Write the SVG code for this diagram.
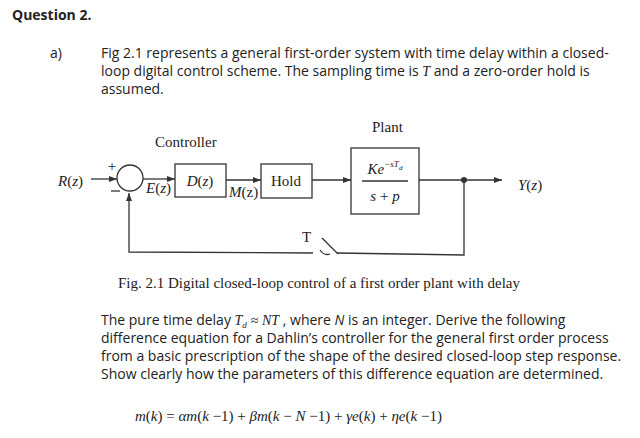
<svg xmlns="http://www.w3.org/2000/svg" width="640" height="438" viewBox="0 0 640 438">
<style>
.s{font-family:"Open Sans","Liberation Sans",sans-serif;font-size:14px;fill:#222}
.t{font-family:"Liberation Serif",serif;font-size:15px;fill:#222}
.b{fill:none;stroke:#333;stroke-width:1.3}
.l{fill:none;stroke:#333;stroke-width:1.3}
</style>
<defs><marker id="a" markerWidth="8" markerHeight="6" refX="8" refY="3" orient="auto" markerUnits="userSpaceOnUse"><path d="M0,0L8,3L0,6z" fill="#333"/></marker></defs>
<rect width="640" height="438" fill="#fff"/>
<text x="12" y="20" class="s" font-weight="bold">Question 2.</text>
<text x="50" y="58" class="s">a)</text>
<text class="s"><tspan x="101" y="58">Fig 2.1 represents a general first-order system with time delay within a closed-</tspan><tspan x="101" y="76">loop digital control scheme. The sampling time is <tspan font-family="Liberation Serif" font-style="italic">T</tspan> and a zero-order hold is</tspan><tspan x="101" y="94">assumed.</tspan></text>
<text x="155" y="147" class="t">Controller</text>
<text x="372" y="132" class="t">Plant</text>
<g id="sum"><circle cx="130" cy="178" r="13" class="b"/><text x="112" y="171" class="t" font-size="26" text-anchor="middle">+</text><line x1="111" y1="191" x2="120" y2="191" class="l"/></g>
<g id="D"><rect x="175" y="164" width="51" height="33" class="b"/><text x="200" y="186" class="t" text-anchor="middle"><tspan font-style="italic">D</tspan>(<tspan font-style="italic">z</tspan>)</text></g>
<g id="H"><rect x="261" y="164" width="51" height="34" class="b"/><text x="286" y="186" class="t" text-anchor="middle">Hold</text></g>
<g id="P"><rect x="351" y="148" width="68" height="66" class="b"/><text x="385" y="174" class="t" text-anchor="middle" font-style="italic" font-size="16">Ke<tspan dy="-7" font-size="9">−sT</tspan><tspan dy="3" font-size="7">d</tspan></text><line x1="362" y1="181" x2="408" y2="181" class="l"/><text x="385" y="201" class="t" text-anchor="middle" font-size="16"><tspan font-style="italic">s</tspan> + <tspan font-style="italic">p</tspan></text></g>
<text x="58" y="186" class="t"><tspan font-style="italic">R</tspan>(<tspan font-style="italic">z</tspan>)</text>
<text x="518" y="190" class="t"><tspan font-style="italic">Y</tspan>(<tspan font-style="italic">z</tspan>)</text>
<text x="146" y="193" class="t" font-size="11"><tspan font-style="italic">E</tspan>(<tspan font-style="italic">z</tspan>)</text>
<text x="229" y="197" class="t" font-size="11"><tspan font-style="italic">M</tspan>(z)</text>
<text x="302" y="242" class="t" font-size="13">T</text>
<g id="connectors">
<line x1="91" y1="179" x2="117" y2="179" class="l" marker-end="url(#a)"/>
<line x1="143" y1="179" x2="175" y2="179" class="l" marker-end="url(#a)"/>
<line x1="226" y1="180" x2="261" y2="180" class="l" marker-end="url(#a)"/>
<line x1="312" y1="180" x2="351" y2="180" class="l" marker-end="url(#a)"/>
<line x1="419" y1="180" x2="502" y2="180" class="l" marker-end="url(#a)"/>
<circle cx="464" cy="180" r="3" fill="#333"/>
<polyline points="464,180 464,255 337,253" class="l"/>
<line x1="338" y1="254" x2="322" y2="238" class="l"/>
<path d="M320,250 q4,6 10,4" class="l"/>
<polyline points="313,253 129,252 129,193" class="l" marker-end="url(#a)"/>
</g>
<text x="118" y="288" class="t" font-size="15.5">Fig. 2.1 Digital closed-loop control of a first order plant with delay</text>
<text class="s"><tspan x="101" y="325">The pure time delay <tspan font-family="Liberation Serif" font-style="italic">T<tspan font-size="9" dy="3">d</tspan></tspan><tspan dy="-3" dx="4" font-family="Liberation Serif">≈ <tspan font-style="italic">NT</tspan></tspan> , where <tspan font-style="italic">N</tspan> is an integer. Derive the following</tspan><tspan x="101" y="343">difference equation for a Dahlin’s controller for the general first order process</tspan><tspan x="101" y="361">from a basic prescription of the shape of the desired closed-loop step response.</tspan><tspan x="101" y="379">Show clearly how the parameters of this difference equation are determined.</tspan></text>
<text x="135" y="421" class="t" font-size="17.5"><tspan font-style="italic">m</tspan>(<tspan font-style="italic">k</tspan>) = <tspan font-style="italic">αm</tspan>(<tspan font-style="italic">k</tspan> −1) + <tspan font-style="italic">βm</tspan>(<tspan font-style="italic">k</tspan> − <tspan font-style="italic">N</tspan> −1) + <tspan font-style="italic">γe</tspan>(<tspan font-style="italic">k</tspan>) + <tspan font-style="italic">ηe</tspan>(<tspan font-style="italic">k</tspan> −1)</text>
</svg>
